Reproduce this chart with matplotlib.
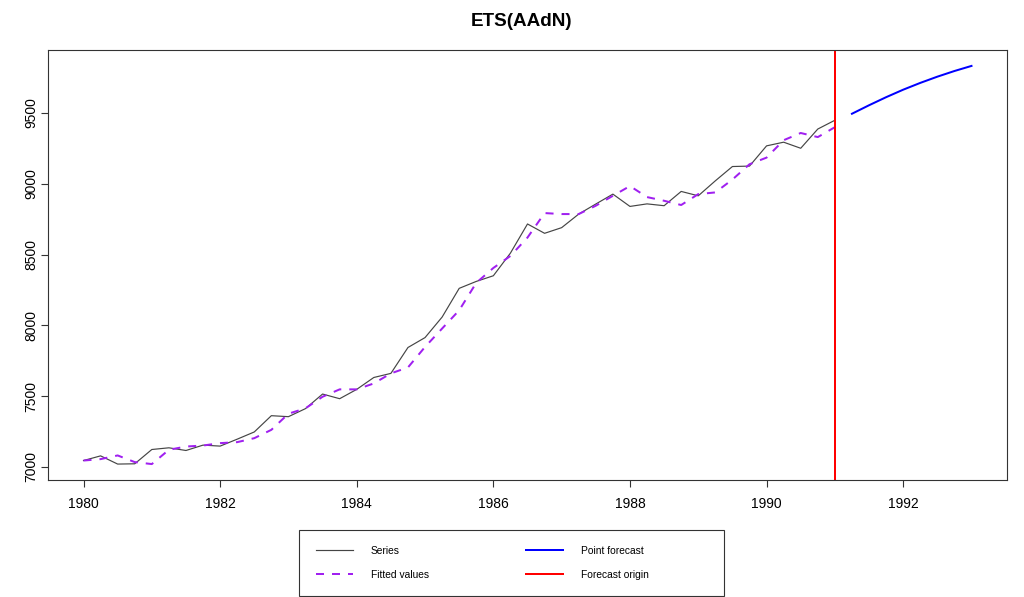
import numpy as np
import matplotlib.pyplot as plt
from matplotlib.lines import Line2D
from matplotlib.patches import Rectangle

plt.rcParams['font.family'] = ['Liberation Sans', 'DejaVu Sans']

# quarterly series, starts 1980 Q1
start = 1980.0
freq = 4
actuals = [7044, 7077, 7019, 7021, 7122, 7134, 7115, 7153, 7146, 7195,
           7246, 7361, 7354, 7411, 7514, 7481, 7547, 7631, 7660, 7843,
           7913, 8058, 8261, 8310, 8350, 8510, 8716, 8650, 8690, 8786,
           8857, 8927, 8840, 8858, 8845, 8946, 8915, 9021, 9122, 9125,
           9268, 9294, 9251, 9387, 9449]
fitted = [7044, 7054, 7080, 7033, 7019, 7120, 7143, 7150, 7167, 7174,
          7202, 7261, 7375, 7413, 7495, 7547, 7547, 7589, 7660, 7702,
          7847, 7977, 8106, 8300, 8405, 8490, 8620, 8793, 8786, 8786,
          8845, 8915, 8984, 8906, 8880, 8850, 8927, 8939, 9030, 9138,
          9185, 9308, 9359, 9330, 9400]
forecast = [9495, 9555, 9612, 9665, 9713, 9757, 9797, 9833]
origin = 1991.0
title = "ETS(AAdN)"
legend_labels = ["Series", "Fitted values", "Point forecast", "Forecast origin"]

t = start + np.arange(len(actuals)) / freq
tf = t[-1] + (np.arange(len(forecast)) + 1) / freq

fig = plt.figure(figsize=(10.24, 5.97), dpi=100)
ax = fig.add_axes([48/1024, 1-480/597, (1007-48)/1024, (480-50)/597])

ax.plot(t, actuals, color='#454545', lw=0.85)
ax.plot(t, fitted, color='#A020F0', lw=1.44, ls=(0, (4, 4)))
ax.plot(tf, forecast, color='blue', lw=1.44)
ax.axvline(origin, color='red', lw=1.44)

# R style 4% range extension
allv = np.concatenate([actuals, fitted, forecast])
lo, hi = allv.min(), allv.max()
ax.set_ylim(lo - 0.04*(hi-lo), hi + 0.04*(hi-lo))
x0, x1 = t[0], tf[-1]
ax.set_xlim(x0 - 0.04*(x1-x0), x1 + 0.04*(x1-x0))

ax.set_xticks(np.arange(1980, 1993, 2))
ax.set_yticks(np.arange(7000, 9501, 500))
ax.tick_params(axis='both', direction='out', length=5, width=0.8,
               color='#333333', labelsize=10)
ax.tick_params(axis='x', pad=7)
ax.tick_params(axis='y', pad=2)
for lab in ax.get_yticklabels():
    lab.set_rotation(90)
    lab.set_va('center')
for s in ax.spines.values():
    s.set_color('#333333')
    s.set_linewidth(0.8)

fig.text(522/1024, 1-22/597, title, ha='center', va='center',
         fontsize=13.6, fontweight='bold')

handles = [Line2D([], [], color='#454545', lw=0.85),
           Line2D([], [], color='#A020F0', lw=1.44, ls=(0, (4, 4))),
           Line2D([], [], color='blue', lw=1.44),
           Line2D([], [], color='red', lw=1.44)]
fig.legend(handles, legend_labels, ncol=2, loc='upper left',
           bbox_to_anchor=(316/1024, 1-545.5/597), frameon=False,
           fontsize=7.4, handlelength=3.57, handletextpad=1.75,
           columnspacing=9.5, labelspacing=1.38, borderpad=0,
           borderaxespad=0)
fig.patches.append(Rectangle((299/1024, 1-595.5/597), 425/1024, 66/597,
                             transform=fig.transFigure, fill=False,
                             edgecolor='#333333', lw=0.8))

fig.savefig('out.png', dpi=100)
